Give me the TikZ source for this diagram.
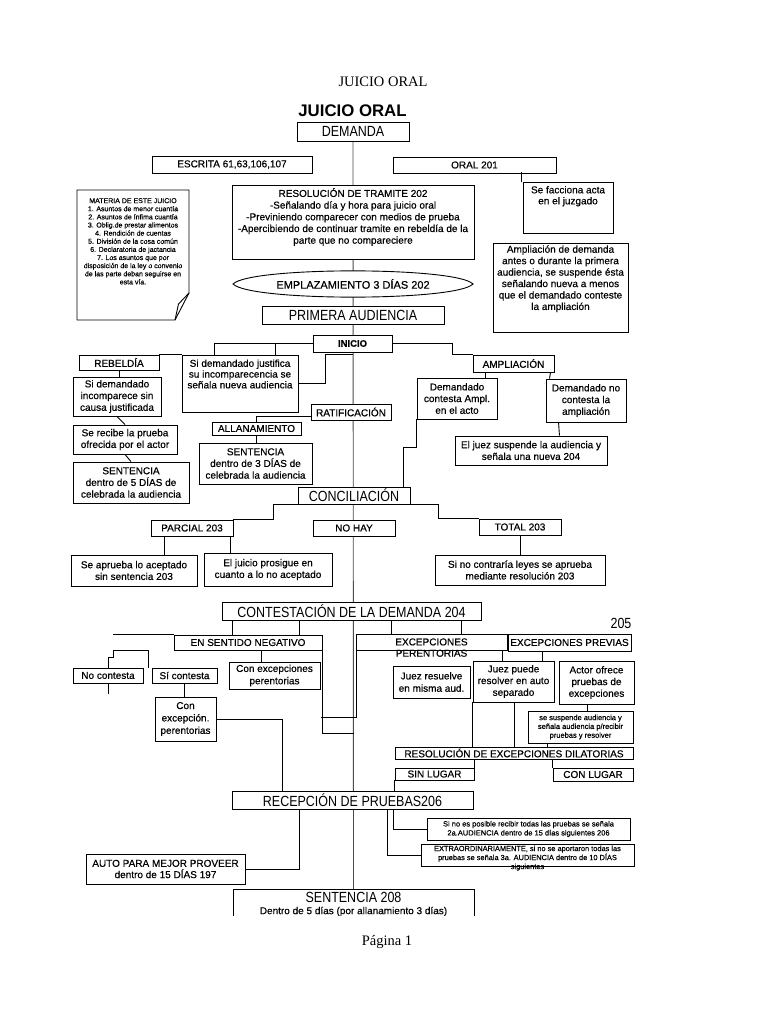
\documentclass[tikz,border=0pt]{standalone}
\usepackage{fontspec}
\setmainfont{Liberation Sans}[FakeBold=0.5]
\newfontfamily\jobigfam[FakeStretch=0.85]{Liberation Sans}
\newfontfamily\jotitle{Liberation Sans}
\newfontfamily\joserif{Liberation Serif}
\newcommand\joS{\fontsize{10pt}{11.7pt}\selectfont}
\newcommand\joB{\jobigfam\fontsize{14.7pt}{16pt}\selectfont}
\newcommand\joT{\fontsize{7pt}{8.13pt}\selectfont}
\usetikzlibrary{shapes.geometric,backgrounds}
\begin{document}
\begin{tikzpicture}[x=1pt,y=-1pt,
  box/.style={draw, fill=white, line width=0.9pt, inner sep=0pt, align=center, font=\joS},
  ln/.style={line width=0.9pt},
  cl/.style={line width=0.9pt, draw=black!70},
  txt/.style={inner sep=0pt, align=center, font=\joS}]
\useasboundingbox (0,0) rectangle (768,1024);
\begin{scope}[on background layer]
\fill[white] (0,0) rectangle (768,1024);
\end{scope}

% headers
\node[txt, font=\joserif\fontsize{14.5pt}{16pt}\selectfont] (hdr) at (383,82) {JUICIO ORAL};
\node[txt, font=\jotitle\bfseries\fontsize{16.8pt}{18pt}\selectfont] (title) at (352.5,110.5) {JUICIO ORAL};
\node[txt, font=\joserif\fontsize{14.5pt}{16pt}\selectfont] (pagina) at (387,942) {Página 1};

% top part
\node[box, font=\joB, minimum width=112pt, minimum height=19pt] (demanda) at (353,131.5) {DEMANDA};
\node[box, minimum width=160pt, minimum height=17pt] (escrita) at (232,164.5) {ESCRITA 61,63,106,107};
\node[box, minimum width=163pt, minimum height=16pt] (oral) at (474.5,165) {ORAL 201};
\node[box, minimum width=242pt, minimum height=74pt] (resol) at (353,222) {};
\node[txt] (resoltx) at (353,217) {RESOLUCIÓN DE TRAMITE 202\\-Señalando día y hora para juicio oral\\-Previniendo comparecer con medios de prueba\\-Apercibiendo de continuar tramite en rebeldía de la\\parte que no compareciere};
\node[box, minimum width=90pt, minimum height=51pt] (facc) at (568,207.5) {};
\node[txt, font=\fontsize{10pt}{11pt}\selectfont] (facctx) at (568,196.2) {Se facciona acta\\en el juzgado};
\node[box, minimum width=135pt, minimum height=89pt] (ampl) at (560.5,287.5) {};
\node[txt, font=\fontsize{10pt}{11.45pt}\selectfont] (ampltx) at (560.5,278.7) {Ampliación de demanda\\antes o durante la primera\\audiencia, se suspende ésta\\señalando nueva a menos\\que el demandado conteste\\la ampliación};

% note
\draw[ln, fill=white] (77,190) -- (189,190) -- (189,293) -- (175,320) -- (77,320) -- cycle;
\draw[ln] (175,320) -- (178.5,304) -- (189,293);
\node[txt, font=\joT, anchor=north] (materia) at (133,198) {MATERIA DE ESTE JUICIO\\1. Asuntos de menor cuantía\\2. Asuntos de ínfima cuantía\\3. Oblig.de prestar alimentos\\4. Rendición de cuentas\\5. División de la cosa común\\6. Declaratoria de jactancia\\7. Los asuntos que por\\disposición de la ley o convenio\\de las parte deban seguirse en\\esta vía.};

% emplazamiento
\draw[ln, fill=white] (233,284) .. controls (250,266.5) and (456,266.5) .. (473,284) .. controls (456,301.5) and (250,301.5) .. (233,284) -- cycle;
\node[txt, font=\fontsize{11pt}{12pt}\selectfont] (empl) at (353,284) {EMPLAZAMIENTO 3 DÍAS 202};

% primera audiencia
\node[box, font=\joB, minimum width=182pt, minimum height=18pt] (primera) at (353,315) {PRIMERA AUDIENCIA};
\node[box, font=\bfseries\fontsize{9.5pt}{11pt}\selectfont, minimum width=79pt, minimum height=17pt] (inicio) at (352.5,343.5) {INICIO};
\node[box, minimum width=80pt, minimum height=15pt] (rebeldia) at (119,362.5) {REBELDÍA};
\node[box, minimum width=116pt, minimum height=57pt] (sidemj) at (240,383.5) {};
\node[txt, font=\fontsize{10pt}{10.8pt}\selectfont] (sidemjtx) at (240,374) {Si demandado justifica\\su incomparecencia se\\señala nueva audiencia};
\node[box, minimum width=81pt, minimum height=17pt] (amplia) at (513.5,363.5) {AMPLIACIÓN};
\node[box, minimum width=88pt, minimum height=39pt] (incomp) at (117,396.5) {Si demandado\\incomparece sin\\causa justificada};
\node[box, minimum width=104pt, minimum height=29pt] (recibe) at (125,439.5) {Se recibe la prueba\\ofrecida por el actor};
\node[box, minimum width=116pt, minimum height=41pt] (sent5) at (131,482.5) {SENTENCIA\\dentro de 5 DÍAS de\\celebrada la audiencia};
\node[box, minimum width=80pt, minimum height=16pt] (ratif) at (351,412) {RATIFICACIÓN};
\node[box, minimum width=89pt, minimum height=13pt] (allan) at (256.5,428.5) {ALLANAMIENTO};
\node[box, minimum width=113pt, minimum height=41pt] (sent3) at (255.5,463.5) {SENTENCIA\\dentro de 3 DÍAS de\\celebrada la audiencia};
\node[box, minimum width=80pt, minimum height=41pt] (dca) at (457,398.5) {Demandado\\contesta Ampl.\\en el acto};
\node[box, minimum width=80pt, minimum height=43pt] (dnc) at (586,400.5) {Demandado no\\contesta la\\ampliación};
\node[box, minimum width=152pt, minimum height=29pt] (juezsusp) at (531,450.5) {El juez suspende la audiencia y\\señala una nueva 204};

% conciliacion
\node[box, font=\joB, minimum width=112pt, minimum height=17pt] (concil) at (354,495.5) {CONCILIACIÓN};
\node[box, minimum width=82pt, minimum height=16pt] (parcial) at (192,528) {PARCIAL 203};
\node[box, minimum width=82pt, minimum height=16pt] (nohay) at (354,528) {NO HAY};
\node[box, minimum width=82pt, minimum height=16pt] (total) at (520,527) {TOTAL 203};
\node[box, minimum width=126pt, minimum height=31pt] (seaprueba) at (134,570.5) {Se aprueba lo aceptado\\sin sentencia 203};
\node[box, minimum width=128pt, minimum height=33pt] (eljuicio) at (268,569.5) {El juicio prosigue en\\cuanto a lo no aceptado};
\node[box, minimum width=170pt, minimum height=30pt] (sino) at (520,570) {Si no contraría leyes se aprueba\\mediante resolución 203};

% contestacion
\node[box, font=\joB, minimum width=259pt, minimum height=18pt] (contest) at (351.5,611) {CONTESTACIÓN DE LA DEMANDA 204};
\node[txt, font=\joB] (n205) at (621,623) {205};
\node[box, minimum width=148pt, minimum height=15pt] (negat) at (248,642.5) {EN SENTIDO NEGATIVO};
\node[box, minimum width=151pt, minimum height=16pt] (perent) at (431.5,642) {};
\node[txt, font=\fontsize{10pt}{11.3pt}\selectfont] (perenttx) at (431.5,647.6) {EXCEPCIONES\\PERENTORIAS};
\node[box, minimum width=123pt, minimum height=17pt] (previas) at (569.5,642.5) {EXCEPCIONES PREVIAS};
\node[box, minimum width=70pt, minimum height=15pt] (nocont) at (108,675.5) {No contesta};
\node[box, minimum width=65pt, minimum height=15pt] (sicont) at (184.5,675.5) {Sí contesta};
\node[box, minimum width=61pt, minimum height=44pt, font=\fontsize{10pt}{12.4pt}\selectfont] (conexc) at (185.5,719) {Con\\excepción.\\perentorias};
\node[box, minimum width=91pt, minimum height=27pt, font=\fontsize{10pt}{12.3pt}\selectfont] (conexcs) at (274.5,675.5) {Con excepciones\\perentorias};
\node[box, minimum width=77pt, minimum height=32pt, font=\fontsize{10pt}{12.3pt}\selectfont] (juezres) at (431.5,682) {Juez resuelve\\en misma aud.};
\node[box, minimum width=81pt, minimum height=41pt] (juezpuede) at (513.5,681.5) {Juez puede\\resolver en auto\\separado};
\node[box, minimum width=75pt, minimum height=43pt] (actor) at (596.5,682.5) {Actor ofrece\\pruebas de\\excepciones};
\node[box, minimum width=105pt, minimum height=32pt, font=\fontsize{7.5pt}{8.8pt}\selectfont] (suspende) at (580.5,727) {se suspende audiencia y\\señala audiencia p/recibir\\pruebas y resolver};
\node[box, minimum width=238pt, minimum height=12pt] (resexc) at (514,753) {RESOLUCIÓN DE EXCEPCIONES DILATORIAS};
\node[box, minimum width=79pt, minimum height=12pt] (sinlugar) at (434.5,774) {SIN LUGAR};
\node[box, minimum width=80pt, minimum height=13pt] (conlugar) at (593,774.5) {CON LUGAR};

% recepcion
\node[box, font=\joB, minimum width=241pt, minimum height=18pt] (recep) at (352.5,800) {RECEPCIÓN DE PRUEBAS206};
\node[box, minimum width=203pt, minimum height=22pt, font=\fontsize{7.5pt}{9pt}\selectfont] (sinoes) at (528.5,829) {Si no es posible recibir todas las pruebas se señala\\2a.AUDIENCIA dentro de 15 días siguientes 206};
\node[box, minimum width=213pt, minimum height=22pt] (extra) at (527.5,855) {};
\node[txt, font=\fontsize{7.4pt}{9pt}\selectfont, anchor=north] (extratx) at (527.5,845.5) {EXTRAORDINARIAMENTE, si no se aportaron todas las\\pruebas se señala 3a. AUDIENCIA dentro de 10 DÍAS\\siguientes};
\node[box, minimum width=159pt, minimum height=30pt, font=\fontsize{10pt}{11.3pt}\selectfont] (auto) at (165.5,869) {AUTO PARA MEJOR PROVEER\\dentro de 15 DÍAS 197};
\begin{scope}
\clip (0,0) rectangle (768,915.5);
\node[box, minimum width=241pt, minimum height=40pt, anchor=north] (sent208) at (353.5,889) {};
\node[txt, font=\joB] (s208a) at (353.5,897.5) {SENTENCIA 208};
\node[txt] (s208b) at (353.5,911.5) {Dentro de 5 días (por allanamiento 3 días)};
\end{scope}

% connectors
\draw[ln] ([xshift=-1.5pt]facc.north west) -- ++(0,-9.3);
\draw[ln] (inicio.west) -| ([xshift=33pt]sidemj.north west);
\draw[ln] ([xshift=94pt]sidemj.north west) |- (inicio.west);
\draw[ln] (rebeldia.north east) -- (sidemj.north west);
\draw[ln] (sidemj.east) -- ++(27,0) |- (primera.south |- sidemj.north);
\draw[ln] (inicio.east) -| ([xshift=-20.3pt]amplia.north west) -- (amplia.north west);
\draw[ln] ([xshift=12.7pt]amplia.south west) -- ([xshift=68.7pt]dca.north west);
\draw[ln] ([xshift=4pt]dnc.north west) -- ([xshift=-4pt]amplia.south east);
\draw[ln] ([xshift=13pt]dnc.south west) -- ([xshift=-48pt]juezsusp.north east);
\draw[ln] (dca.south west) -- ++(0,28.3) -- ++(-13,0) -- ++(0,39.7);
\draw[ln] (rebeldia.south) -- (rebeldia.south |- incomp.north);
\draw[ln] (incomp.south) -- (recibe.north);
\draw[ln] (recibe.south) -- (sent5.north);
\draw[ln] ([yshift=-4pt]ratif.west) -| (allan.north);
\draw[ln] (allan.south) -- (allan.south |- sent3.north);
\draw[ln] (concil.south west) -- ++(-24,0) |- (parcial.north east);
\draw[ln] (concil.south east) -- ++(28,0) |- (total.north west);
\draw[ln] ([xshift=-28pt]parcial.south) -- ++(0,19);
\draw[ln] ([xshift=38pt]parcial.south) -- ++(0,17);
\draw[ln] (total.south) -- (sino.north);
\draw[ln] ([xshift=-119.2pt]contest.south) -- ++(0,15);
\draw[ln] ([xshift=-52.2pt]contest.south) -- ++(0,15);
\draw[ln] ([xshift=39.5pt]contest.south) -- ++(0,14);
\draw[ln] ([xshift=109.5pt]contest.south) -- ++(0,14);
\draw[ln] (negat.north west) -- ++(-61,0);
\draw[ln] (nocont.north) -- ++(0,-10) -- ++(5.3,0) -- ++(0,-7) -- ++(35,0) -- ++(0,17);
\draw[ln] (nocont.south) -- ++(0,11);
\draw[ln] (sicont.south) -- (sicont.south |- conexc.north);
\draw[ln] (conexc.east) -| ([xshift=51pt]recep.north west);
\draw[ln] ([xshift=13pt]negat.south) -- ++(0,12);
\draw[ln] (negat.south east) -- ++(0,83.3) -- ++(31.3,0);
\draw[ln] ([xshift=0.7pt]perent.west) -- ++(0,75.3) -- ++(-35,0);
\draw[ln] ([xshift=-5.3pt]perent.south east) -- ++(0,11);
\draw[ln] ([xshift=-27.2pt]previas.south) -- ++(0,10);
\draw[ln] ([xshift=-8.8pt]actor.south) -- ++(0,7);
\draw[ln] (juezpuede.south west) -- ++(0,45);
\draw[ln] ([xshift=0.8pt]juezpuede.south) -- ++(0,45);
\draw[ln] ([xshift=-33.2pt]suspende.south) -- ++(0,4);
\draw[ln] (sinlugar.north east) -- ++(0,-9);
\draw[ln] (conlugar.north west) -- ++(0,-9);
\draw[ln] (sinlugar.south west) -- ++(0,11);
\draw[ln] ([xshift=-52.8pt]recep.south) |- (auto.east);
\draw[ln] ([xshift=40.5pt]recep.south) |- (sinoes.west);
\draw[ln] ([xshift=34.5pt]recep.south) |- (extra.west);

\begin{scope}[on background layer]
\draw[cl] (demanda.south) -- (sent208.north);
\end{scope}
\end{tikzpicture}
\end{document}
